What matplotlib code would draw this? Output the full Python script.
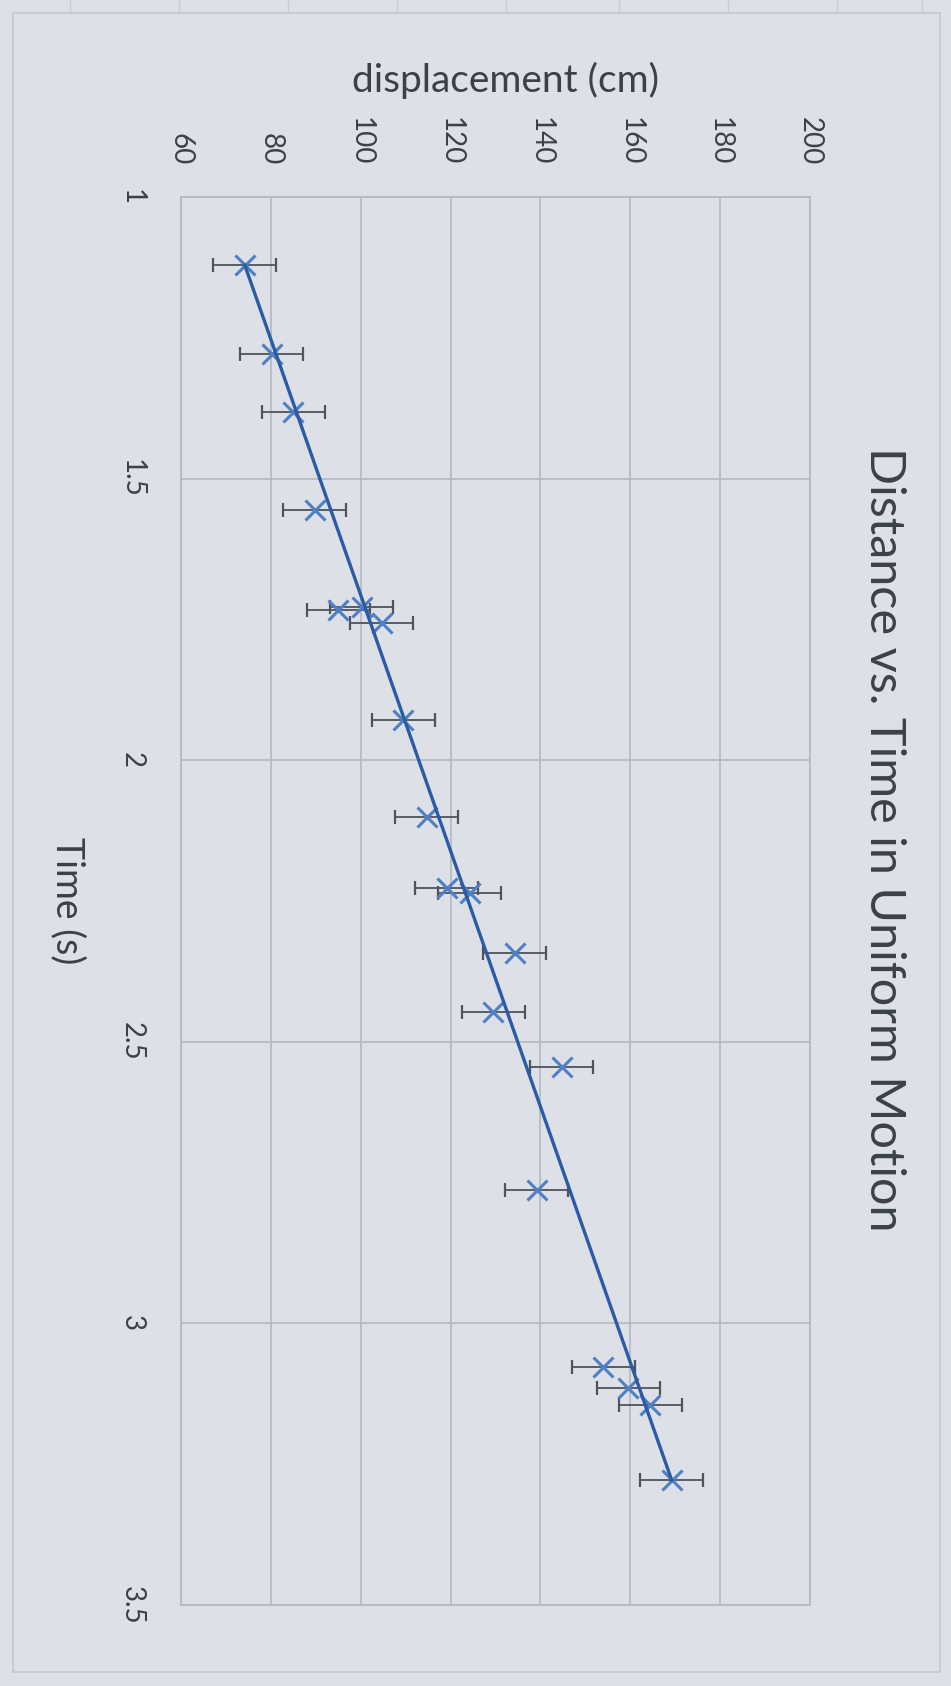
import numpy as np
import matplotlib
matplotlib.use("Agg")
import matplotlib.pyplot as plt
from matplotlib.patches import Rectangle

# Time (s) and displacement (cm)
time_s = [1.121, 1.278, 1.381, 1.556, 1.733, 1.728, 1.756, 1.929, 2.100, 2.227,
          2.236, 2.343, 2.447, 2.544, 2.763, 3.077, 3.115, 3.145, 3.278]
disp_cm = [74.2, 80.2, 85.0, 89.8, 95.0, 100.2, 104.7, 109.5, 114.7, 119.1,
           124.3, 134.3, 129.5, 144.7, 139.2, 154.0, 159.6, 164.4, 169.2]
disp_err = 7

disp_ticks = [60, 80, 100, 120, 140, 160, 180, 200]
time_ticks = [1, 1.5, 2, 2.5, 3, 3.5]
time_ticklabels = ["1", "1.5", "2", "2.5", "3", "3.5"]

TITLE = "Distance vs. Time in Uniform Motion"
XLABEL = "Time (s)"
YLABEL = "displacement (cm)"

BG = "#dde0e6"
GRID = "#b4b9c1"
TXT = "#3b414b"
FONT = ["Lato", "DejaVu Sans"]

plt.rcParams["font.family"] = FONT

W, H = 951, 1686
fig = plt.figure(figsize=(W / 100, H / 100), dpi=100, facecolor=BG)

# chart object frame (photo of a spreadsheet, chart rotated 90 deg clockwise)
fig.patches.append(Rectangle((13 / W, 1 - 1672 / H), (940 - 13) / W, (1672 - 13) / H,
                             transform=fig.transFigure, fill=False,
                             edgecolor="#c3c7ce", lw=1.2))
for xc in [70, 179, 288, 397, 506, 619, 728, 837, 922]:
    fig.add_artist(plt.Line2D([xc / W, xc / W], [1 - 13 / H, 1.0],
                              transform=fig.transFigure, color="#c8ccd3", lw=1))

ax = fig.add_axes([181 / W, 1 - 1605 / H, (810 - 181) / W, (1605 - 197) / H])
ax.set_facecolor(BG)

# displacement runs left->right, time runs top->bottom
ax.errorbar(disp_cm, time_s, xerr=disp_err, fmt="none", ecolor="#4e535c",
            elinewidth=1.3, capsize=5, capthick=1.6, zorder=3)
ax.plot(disp_cm, time_s, "x", color="#4f7fc4", ms=14, mew=2.2, zorder=4)
ax.plot([disp_cm[0], disp_cm[-1]], [time_s[0], time_s[-1]], color="#2b5aa6",
        lw=2.4, zorder=5)

ax.set_xlim(60, 200)
ax.set_ylim(3.5, 1)
ax.set_xticks(disp_ticks)
ax.set_yticks(time_ticks)
ax.set_yticklabels(time_ticklabels)
ax.xaxis.tick_top()
ax.tick_params(length=0, colors=TXT, labelsize=20)
ax.tick_params(axis="x", pad=23)
ax.tick_params(axis="y", pad=26)
for lab in ax.get_xticklabels():
    lab.set_rotation(270)
    lab.set_ha("center")
    lab.set_va("bottom")
for lab in ax.get_yticklabels():
    lab.set_rotation(270)
    lab.set_ha("right")
    lab.set_va("center")

ax.grid(True, color=GRID, lw=1.2)
ax.set_axisbelow(True)
for sp in ax.spines.values():
    sp.set_color(GRID)
    sp.set_linewidth(1.2)

fig.text(505 / W, 1 - 80 / H, YLABEL, ha="center", va="center",
         fontsize=28, color=TXT)
fig.text(68 / W, 1 - 901 / H, XLABEL, ha="center", va="center",
         rotation=270, fontsize=27, color=TXT)
fig.text(884 / W, 1 - 839 / H, TITLE, ha="center", va="center",
         rotation=270, fontsize=35, color=TXT)

fig.savefig("out.png", dpi=100, facecolor=BG)
